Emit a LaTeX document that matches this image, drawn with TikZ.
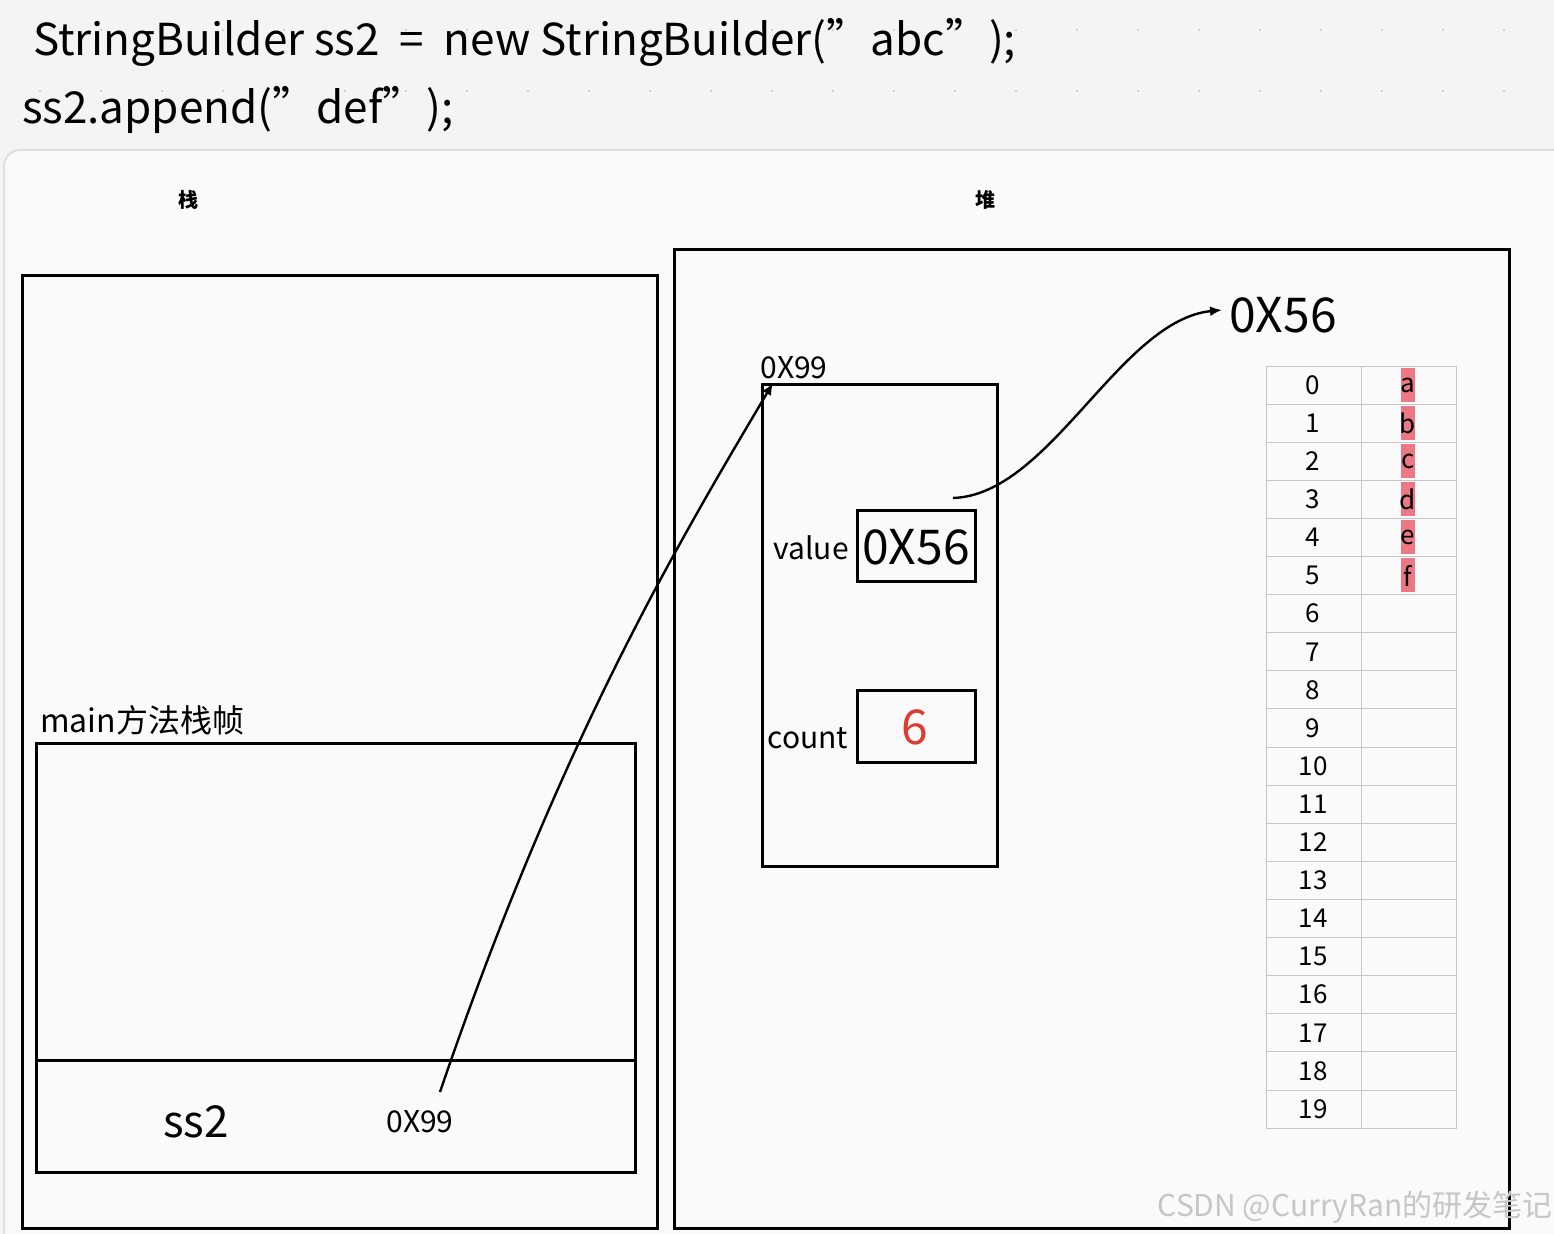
\documentclass[tikz,border=0pt]{standalone}
\usepackage{fontspec}
\setmainfont{Noto Sans CJK SC}
\usetikzlibrary{arrows.meta}
\definecolor{numred}{RGB}{220,60,50}
\definecolor{hl}{RGB}{235,120,130}
\begin{document}
\begin{tikzpicture}[x=0.5pt,y=-0.5pt,
  box/.style={draw=black,line width=1.5pt},
  cell/.style={draw=gray!45,line width=0.4pt},
  arr/.style={line width=1.2pt,-{Latex[length=6pt,width=5pt]}},
  fs/.style={font=\fontsize{#1}{#1}\selectfont}]
\useasboundingbox (0,0) rectangle (1554,1234);
\fill[gray!9] (0,0) rectangle (1554,1234);
\foreach \x in {40,101,...,1554}{\foreach \y in {30,91}{\fill[gray!45] (\x,\y) circle (0.6pt);}}
\fill[gray!4,draw=gray!25,line width=1pt,rounded corners=8pt] (4,150) rectangle (1570,1250);
\node[anchor=west,fs=22] (l1) at (26,42) {StringBuilder ss2\ \ =\ \ new StringBuilder("abc");};
\node[anchor=west,fs=22] (l2) at (15,110) {ss2.append("def");};
\node[fs=32,font=\bfseries] (zhan) at (188,200) {栈};
\node[fs=32,font=\bfseries] (dui) at (985,200) {堆};
\draw[box] (22,276) rectangle (657,1228);
\draw[box] (674,250) rectangle (1509,1228);
\node[anchor=west,fs=16] (mlab) at (33,720) {main方法栈帧};
\draw[box] (36,744) rectangle (635,1172);
\draw[box] (36,1061) -- (635,1061);
\node[fs=22] (ss2) at (196,1122) {ss2};
\node[fs=15] (ref) at (420,1122) {0X99};
\draw[box] (762,385) rectangle (997,867);
\node[fs=15] (objaddr) at (794,368) {0X99};
\node[fs=15] (val) at (811,548) {value};
\draw[box] (857,511) rectangle (975,582);
\node[fs=24] (valv) at (916,547) {0X56};
\node[fs=15] (cnt) at (808,738) {count};
\draw[box] (857,691) rectangle (975,763);
\node[fs=24,text=numred] (cntv) at (915,727) {6};
\node[fs=24] (arrname) at (1283,315) {0X56};
\coordinate (s1) at (440,1092);
\coordinate (e1) at (773,383);
\draw[arr] (s1) .. controls (560,740) and (680,540) .. (e1);
\coordinate (s2) at (953,498);
\coordinate (e2) at (1222,310);
\draw[arr] (s2) .. controls (1050,495) and (1120,320) .. (e2);
\foreach \i in {0,...,19}{
  \pgfmathsetmacro\yt{366+\i*38.1}
  \pgfmathsetmacro\yb{366+(\i+1)*38.1}
  \draw[cell] (1266,\yt) rectangle (1361,\yb);
  \draw[cell] (1361,\yt) rectangle (1456,\yb);
  \node[fs=13] (idx\i) at (1313,{(\yt+\yb)/2}) {\i};
}
\foreach \c [count=\k from 0] in {a,b,c,d,e,f}{
  \pgfmathsetmacro\yt{366+\k*38.1}
  \fill[hl] (1401,\yt+2) rectangle (1415,\yt+36);
  \node[fs=13] (ch\k) at (1408,\yt+19) {\c};
}
\node[fs=15,text=gray!45] (wm) at (1355,1207) {CSDN @CurryRan的研发笔记};
\end{tikzpicture}
\end{document}
